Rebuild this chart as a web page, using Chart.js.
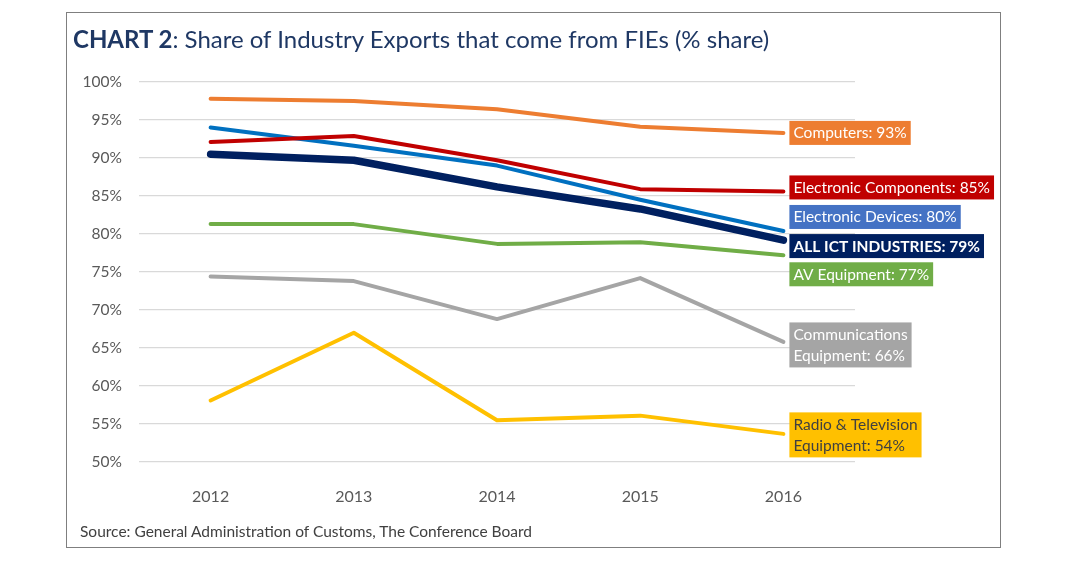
<!DOCTYPE html>
<html>
<head>
<meta charset="utf-8">
<script src="https://cdn.jsdelivr.net/npm/chart.js@4.4.1/dist/chart.umd.min.js"></script>
<style>
  html, body { margin: 0; padding: 0; background: #fff; }
  #wrap { position: relative; width: 1074px; height: 562px; font-family: Lato, "Open Sans", sans-serif; }
  #frame { position: absolute; left: 66px; top: 12px; width: 933px; height: 534px; border: 1.5px solid #7f7f7f; }
  #title { position: absolute; left: 73px; top: 24px; font-size: 24px; color: #1f3864; white-space: nowrap; }
  #title b { font-weight: 700; }
  #source { position: absolute; left: 80px; top: 522px; font-size: 15.5px; color: #404040; white-space: nowrap; }
  canvas { position: absolute; left: 0; top: 0; }
</style>
</head>
<body>
<div id="wrap">
  <div id="frame"></div>
  <canvas id="chart" width="1074" height="562"></canvas>
  <div id="title"><b>CHART 2</b>: Share of Industry Exports that come from FIEs (% share)</div>
  <div id="source">Source: General Administration of Customs, The Conference Board</div>
</div>
<script>
// data
const years = ['2012', '2013', '2014', '2015', '2016'];
const computers = [97.8, 97.5, 96.4, 94.1, 93.3];
const elecComponents = [92.1, 92.9, 89.7, 85.9, 85.6];
const elecDevices = [94.0, 91.6, 89.0, 84.5, 80.4];
const allIct = [90.5, 89.7, 86.2, 83.3, 79.2];
const avEquipment = [81.3, 81.3, 78.7, 78.9, 77.2];
const commsEquipment = [74.4, 73.8, 68.8, 74.2, 65.8];
const radioTv = [58.1, 67.0, 55.5, 56.1, 53.7];
const yTicks = [50, 55, 60, 65, 70, 75, 80, 85, 90, 95, 100];

// end labels (text lines, box colour, text colour, bold, y shift in px)
const series = [
  { data: computers, color: '#ED7D31', width: 4, label: ['Computers: 93%'], box: '#ED7D31', text: '#fff', bold: false, shift: 0 },
  { data: elecComponents, color: '#C00000', width: 4, label: ['Electronic Components: 85%'], box: '#C00000', text: '#fff', bold: false, shift: -4 },
  { data: elecDevices, color: '#0070C0', width: 4, label: ['Electronic Devices: 80%'], box: '#4472C4', text: '#fff', bold: false, shift: -14 },
  { data: allIct, color: '#002060', width: 7.5, label: ['ALL ICT INDUSTRIES: 79%'], box: '#002060', text: '#fff', bold: true, shift: 6 },
  { data: avEquipment, color: '#70AD47', width: 4, label: ['AV Equipment: 77%'], box: '#70AD47', text: '#fff', bold: false, shift: 19 },
  { data: commsEquipment, color: '#A5A5A5', width: 4, label: ['Communications', 'Equipment: 66%'], box: '#A5A5A5', text: '#fff', bold: false, shift: 3 },
  { data: radioTv, color: '#FFC000', width: 4, label: ['Radio & Television', 'Equipment: 54%'], box: '#FFC000', text: '#404040', bold: false, shift: 1 }
];

const endLabels = {
  id: 'endLabels',
  afterDatasetsDraw(chart) {
    const ctx = chart.ctx;
    ctx.save();
    series.forEach((s, i) => {
      const meta = chart.getDatasetMeta(i);
      const pt = meta.data[meta.data.length - 1];
      ctx.font = (s.bold ? 'bold ' : '') + '15.5px Lato, "Open Sans", sans-serif';
      const lineH = 21;
      const w = Math.max(...s.label.map(t => ctx.measureText(t).width)) + 8;
      const h = s.label.length * lineH + 3;
      const x = pt.x + 6;
      const y = pt.y + s.shift - h / 2;
      ctx.fillStyle = s.box;
      ctx.fillRect(x, y, w, h);
      ctx.fillStyle = s.text;
      ctx.textBaseline = 'middle';
      ctx.textAlign = 'left';
      s.label.forEach((t, k) => ctx.fillText(t, x + 4, y + 2 + lineH * k + lineH / 2));
    });
    ctx.restore();
  }
};

new Chart(document.getElementById('chart'), {
  type: 'line',
  data: {
    labels: years,
    datasets: series.map(s => ({
      data: s.data,
      borderColor: s.color,
      borderWidth: s.width,
      borderCapStyle: 'round',
      borderJoinStyle: 'round',
      pointRadius: 0,
      tension: 0,
      fill: false
    }))
  },
  options: {
    responsive: false,
    animation: false,
    layout: { padding: { left: 66, right: 219, top: 82, bottom: 60 } },
    plugins: { legend: { display: false }, tooltip: { enabled: false } },
    scales: {
      x: {
        offset: true,
        grid: { display: false },
        border: { display: false },
        ticks: { color: '#595959', font: { family: 'Lato', size: 16 }, padding: 17 },
        afterFit(scale) { scale.height = 40; }
      },
      y: {
        min: 50,
        max: 100,
        afterBuildTicks(scale) { scale.ticks = yTicks.map(v => ({ value: v })); },
        grid: { color: '#d9d9d9', lineWidth: 1.3, drawTicks: false },
        border: { display: false },
        ticks: {
          color: '#595959',
          font: { family: 'Lato', size: 15.5 },
          padding: 17,
          callback: v => v + '%'
        },
        afterFit(scale) { scale.width = 73; }
      }
    }
  },
  plugins: [endLabels]
});
</script>
</body>
</html>
